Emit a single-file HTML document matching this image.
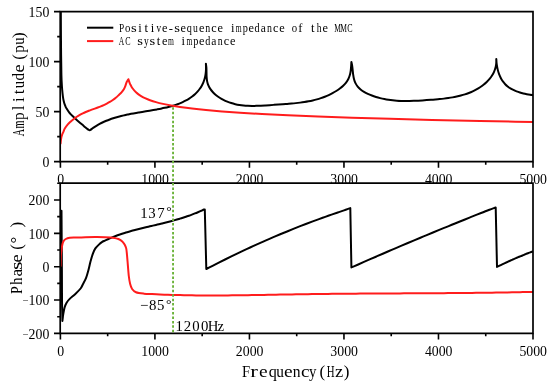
<!DOCTYPE html>
<html><head><meta charset="utf-8"><title>Impedance</title><style>
html,body{margin:0;padding:0;background:#fff;}
body{width:550px;height:385px;overflow:hidden;}
svg{display:block;}
.tk{font-family:"Liberation Serif","Noto Serif CJK SC",serif;font-size:13.8px;fill:#000;}
.mn{fill:#555;}
.lg{font-family:"Liberation Serif","Noto Serif CJK SC",serif;font-size:12.6px;fill:#000;}
.ti{font-family:"Liberation Serif","Noto Serif CJK SC",serif;font-size:17px;fill:#000;}
.dg{font-family:"Liberation Serif",serif;font-size:13.5px;fill:#000;}
.an{font-family:"Liberation Serif","Noto Serif CJK SC",serif;font-size:14.8px;fill:#000;}
</style></head><body>
<svg width="550" height="385" viewBox="0 0 550 385">
<rect x="0" y="0" width="550" height="385" fill="#fff"/>
<defs><clipPath id="ct"><rect x="60.20" y="11.60" width="472.80" height="150.05"/></clipPath><clipPath id="cb"><rect x="60.20" y="183.20" width="472.80" height="150.15"/></clipPath></defs>
<text class="tk" x="60.60" y="184.20" text-anchor="middle">0</text>
<text class="tk" x="155.12" y="184.20" text-anchor="middle">1000</text>
<text class="tk" x="249.64" y="184.20" text-anchor="middle">2000</text>
<text class="tk" x="344.16" y="184.20" text-anchor="middle">3000</text>
<text class="tk" x="438.68" y="184.20" text-anchor="middle">4000</text>
<text class="tk" x="533.20" y="184.20" text-anchor="middle">5000</text>
<g clip-path="url(#ct)" fill="none" stroke-linejoin="round" stroke-linecap="round">
<path d="M60.80,5.00 C60.83,13.33 60.85,21.67 60.90,30.00 C60.95,38.33 61.02,47.50 61.10,55.00 C61.18,62.50 61.27,69.83 61.40,75.00 C61.53,80.17 61.72,83.00 61.90,86.00 C62.08,89.00 62.27,90.82 62.50,93.00 C62.73,95.18 63.00,97.40 63.30,99.10 C63.60,100.80 63.95,102.02 64.30,103.20 C64.65,104.38 65.02,105.30 65.40,106.20 C65.78,107.10 65.95,107.52 66.60,108.60 C67.25,109.68 68.43,111.58 69.30,112.70 C70.17,113.82 70.95,114.45 71.80,115.30 C72.65,116.15 73.48,116.95 74.40,117.80 C75.32,118.65 76.33,119.55 77.30,120.40 C78.27,121.25 79.28,122.12 80.20,122.90 C81.12,123.68 81.95,124.37 82.80,125.10 C83.65,125.83 84.55,126.67 85.30,127.30 C86.05,127.93 86.73,128.48 87.30,128.90 C87.87,129.32 88.25,129.60 88.70,129.80 C89.15,130.00 89.26,130.43 90.00,130.10 C90.74,129.77 92.09,128.56 93.15,127.84 C94.21,127.12 95.28,126.44 96.36,125.79 C97.44,125.14 98.53,124.53 99.63,123.94 C100.73,123.36 101.84,122.80 102.95,122.28 C104.07,121.75 105.20,121.26 106.33,120.79 C107.46,120.31 108.60,119.87 109.75,119.45 C110.89,119.03 112.05,118.63 113.21,118.25 C114.37,117.87 115.54,117.52 116.72,117.18 C117.89,116.84 119.07,116.52 120.26,116.22 C121.45,115.92 122.64,115.63 123.84,115.35 C125.04,115.08 126.24,114.82 127.45,114.57 C128.66,114.32 129.87,114.08 131.09,113.85 C132.30,113.62 133.53,113.40 134.75,113.18 C135.98,112.96 137.20,112.75 138.44,112.55 C139.67,112.34 140.90,112.14 142.14,111.93 C143.38,111.73 144.62,111.53 145.86,111.32 C147.11,111.12 148.35,110.92 149.60,110.71 C150.84,110.50 152.09,110.29 153.34,110.07 C154.59,109.85 155.84,109.62 157.09,109.39 C158.34,109.15 159.60,108.91 160.85,108.65 C162.10,108.39 163.35,108.13 164.60,107.85 C165.85,107.56 167.10,107.27 168.34,106.95 C169.59,106.64 170.82,106.31 172.05,105.96 C173.27,105.60 174.49,105.23 175.69,104.83 C176.89,104.43 178.08,104.01 179.25,103.56 C180.42,103.10 181.58,102.62 182.70,102.11 C183.83,101.60 184.94,101.06 186.02,100.48 C187.10,99.90 188.16,99.29 189.19,98.64 C190.21,97.99 191.21,97.30 192.17,96.57 C193.13,95.83 194.06,95.06 194.95,94.24 C195.83,93.42 196.69,92.56 197.50,91.65 C198.30,90.74 199.07,89.78 199.79,88.78 C200.50,87.79 201.17,86.74 201.77,85.67 C202.37,84.59 202.92,83.47 203.39,82.33 C203.87,81.18 204.28,79.99 204.61,78.79 C204.95,77.58 205.22,76.34 205.43,75.09 C205.64,73.84 205.78,72.57 205.88,71.30 C205.98,70.03 206.01,68.75 206.02,67.48 C206.02,66.21 205.94,64.96 205.90,63.70 L205.90,63.70 C206.06,65.09 206.29,66.45 206.39,67.88 C206.49,69.32 206.47,70.81 206.51,72.29 C206.54,73.77 206.52,75.29 206.61,76.75 C206.71,78.22 206.81,79.70 207.08,81.11 C207.36,82.51 207.74,83.89 208.27,85.18 C208.80,86.48 209.49,87.72 210.27,88.90 C211.05,90.07 211.97,91.19 212.94,92.24 C213.92,93.29 215.01,94.27 216.13,95.19 C217.26,96.11 218.47,96.97 219.68,97.75 C220.90,98.54 222.16,99.26 223.43,99.91 C224.70,100.57 225.99,101.15 227.29,101.68 C228.59,102.21 229.91,102.67 231.24,103.08 C232.57,103.50 233.92,103.85 235.28,104.16 C236.63,104.47 238.01,104.73 239.39,104.95 C240.77,105.17 242.17,105.34 243.57,105.48 C244.98,105.62 246.39,105.72 247.81,105.79 C249.23,105.86 250.67,105.89 252.10,105.91 C253.54,105.92 254.99,105.90 256.43,105.87 C257.88,105.84 259.34,105.78 260.80,105.71 C262.26,105.64 263.72,105.56 265.18,105.47 C266.65,105.38 268.12,105.27 269.58,105.17 C271.05,105.07 272.52,104.96 273.99,104.85 C275.46,104.75 276.93,104.65 278.39,104.55 C279.86,104.45 281.32,104.35 282.78,104.24 C284.25,104.14 285.70,104.03 287.16,103.92 C288.61,103.81 290.07,103.69 291.51,103.56 C292.96,103.43 294.40,103.29 295.84,103.13 C297.27,102.98 298.71,102.81 300.13,102.63 C301.55,102.44 302.97,102.24 304.38,102.02 C305.79,101.80 307.19,101.56 308.59,101.29 C309.98,101.02 311.37,100.73 312.74,100.41 C314.12,100.09 315.48,99.75 316.84,99.37 C318.19,99.00 319.54,98.59 320.87,98.15 C322.20,97.71 323.52,97.23 324.83,96.72 C326.14,96.20 327.44,95.66 328.72,95.06 C330.00,94.47 331.27,93.84 332.52,93.16 C333.78,92.48 335.02,91.76 336.24,90.98 C337.46,90.21 338.68,89.40 339.84,88.52 C341.00,87.65 342.14,86.72 343.18,85.73 C344.22,84.74 345.21,83.70 346.07,82.58 C346.93,81.47 347.72,80.29 348.34,79.04 C348.97,77.79 349.45,76.45 349.84,75.08 C350.23,73.71 350.47,72.25 350.69,70.81 C350.90,69.36 351.01,67.86 351.12,66.39 C351.24,64.92 351.31,63.46 351.40,62.00 L351.40,62.00 C351.66,63.33 351.97,64.60 352.18,65.99 C352.40,67.38 352.52,68.87 352.69,70.34 C352.86,71.81 352.98,73.34 353.21,74.81 C353.43,76.28 353.66,77.76 354.04,79.15 C354.41,80.53 354.86,81.88 355.47,83.11 C356.08,84.33 356.83,85.47 357.69,86.52 C358.54,87.57 359.53,88.52 360.59,89.41 C361.65,90.29 362.82,91.09 364.03,91.83 C365.24,92.58 366.53,93.24 367.85,93.86 C369.16,94.48 370.53,95.03 371.90,95.54 C373.26,96.06 374.65,96.52 376.03,96.94 C377.42,97.37 378.80,97.75 380.18,98.10 C381.57,98.45 382.95,98.76 384.34,99.03 C385.73,99.31 387.12,99.55 388.51,99.76 C389.90,99.97 391.30,100.15 392.69,100.30 C394.09,100.45 395.49,100.57 396.89,100.67 C398.29,100.77 399.69,100.84 401.09,100.89 C402.50,100.94 403.90,100.97 405.31,100.98 C406.72,100.99 408.13,100.98 409.55,100.95 C410.96,100.93 412.38,100.89 413.80,100.84 C415.22,100.79 416.64,100.72 418.07,100.65 C419.49,100.57 420.92,100.49 422.35,100.40 C423.78,100.31 425.22,100.21 426.65,100.11 C428.09,100.01 429.53,99.91 430.97,99.81 C432.42,99.70 433.86,99.59 435.31,99.47 C436.75,99.35 438.20,99.23 439.64,99.08 C441.08,98.94 442.52,98.79 443.95,98.62 C445.39,98.45 446.82,98.27 448.24,98.06 C449.67,97.85 451.09,97.63 452.49,97.38 C453.90,97.13 455.30,96.85 456.69,96.55 C458.08,96.25 459.46,95.92 460.82,95.55 C462.19,95.19 463.54,94.80 464.88,94.37 C466.22,93.94 467.54,93.47 468.84,92.96 C470.15,92.46 471.44,91.91 472.71,91.32 C473.97,90.73 475.22,90.10 476.45,89.42 C477.68,88.74 478.89,88.01 480.07,87.23 C481.25,86.45 482.41,85.63 483.51,84.75 C484.62,83.87 485.70,82.94 486.71,81.96 C487.72,80.99 488.69,79.96 489.58,78.88 C490.47,77.81 491.30,76.68 492.04,75.50 C492.78,74.33 493.46,73.10 494.03,71.83 C494.59,70.55 495.08,69.22 495.45,67.85 C495.82,66.47 496.09,65.05 496.23,63.57 C496.37,62.10 496.28,60.52 496.30,59.00 L496.30,59.00 C496.38,60.16 496.42,61.33 496.53,62.49 C496.65,63.65 496.79,64.82 496.98,65.97 C497.17,67.12 497.40,68.26 497.67,69.39 C497.94,70.51 498.25,71.62 498.61,72.71 C498.97,73.79 499.37,74.86 499.82,75.89 C500.27,76.92 500.76,77.93 501.31,78.89 C501.86,79.85 502.45,80.79 503.10,81.67 C503.75,82.56 504.45,83.40 505.21,84.19 C505.97,84.98 506.79,85.72 507.65,86.42 C508.51,87.11 509.44,87.74 510.40,88.33 C511.35,88.93 512.36,89.47 513.39,89.97 C514.42,90.47 515.50,90.93 516.58,91.35 C517.67,91.77 518.79,92.15 519.91,92.49 C521.04,92.84 522.18,93.15 523.33,93.43 C524.47,93.71 525.62,93.95 526.77,94.18 C527.91,94.40 529.05,94.59 530.18,94.76 C531.30,94.93 532.39,95.05 533.50,95.20" stroke="#000" stroke-width="2"/>
<path d="M60.60,143.40 C60.77,141.83 60.83,140.18 61.10,138.70 C61.37,137.22 61.80,135.68 62.20,134.50 C62.60,133.32 63.07,132.58 63.50,131.60 C63.93,130.62 64.08,129.79 64.80,128.60 C65.52,127.41 66.80,125.63 67.80,124.44 C68.80,123.25 69.80,122.38 70.80,121.46 C71.80,120.54 72.80,119.70 73.80,118.92 C74.80,118.13 75.80,117.42 76.80,116.75 C77.80,116.08 78.80,115.47 79.80,114.90 C80.80,114.33 81.80,113.82 82.80,113.33 C83.80,112.84 84.80,112.39 85.80,111.96 C86.80,111.53 87.80,111.14 88.80,110.75 C89.80,110.36 90.80,110.00 91.80,109.64 C92.80,109.28 93.80,108.93 94.80,108.57 C95.80,108.22 96.80,107.87 97.80,107.50 C98.80,107.13 99.80,106.76 100.80,106.36 C101.80,105.96 102.80,105.54 103.80,105.09 C104.80,104.64 105.80,104.17 106.80,103.65 C107.80,103.13 108.80,102.58 109.80,101.98 C110.80,101.37 111.80,100.73 112.80,100.02 C113.80,99.30 114.80,98.55 115.80,97.71 C116.80,96.88 117.85,95.89 118.80,95.01 C119.75,94.12 120.63,93.40 121.50,92.40 C122.37,91.40 123.35,90.10 124.00,89.00 C124.65,87.90 124.95,86.97 125.40,85.80 C125.85,84.63 126.20,83.10 126.70,82.00 C127.20,80.90 127.83,80.13 128.40,79.20 L128.40,79.20 C128.60,79.85 128.78,80.50 129.00,81.14 C129.22,81.77 129.45,82.40 129.70,83.02 C129.95,83.63 130.20,84.20 130.50,84.81 C130.80,85.42 131.13,86.06 131.50,86.68 C131.87,87.30 132.25,87.90 132.70,88.53 C133.15,89.15 133.65,89.80 134.20,90.42 C134.75,91.05 135.28,91.62 136.00,92.27 C136.72,92.93 137.58,93.67 138.50,94.34 C139.42,95.01 140.42,95.67 141.50,96.31 C142.58,96.94 143.58,97.49 145.00,98.14 C146.42,98.78 148.17,99.53 150.00,100.20 C151.83,100.86 153.83,101.51 156.00,102.12 C158.17,102.74 160.50,103.33 163.00,103.89 C165.50,104.45 168.17,104.99 171.00,105.51 C173.83,106.02 176.50,106.47 180.00,106.98 C183.50,107.49 187.67,108.06 192.00,108.57 C196.33,109.08 201.00,109.58 206.00,110.06 C211.00,110.54 216.33,111.01 222.00,111.45 C227.67,111.90 233.33,112.31 240.00,112.74 C246.67,113.18 254.00,113.62 262.00,114.05 C270.00,114.48 278.67,114.91 288.00,115.33 C297.33,115.75 307.33,116.16 318.00,116.56 C328.67,116.97 340.00,117.36 352.00,117.74 C364.00,118.12 376.67,118.50 390.00,118.86 C403.33,119.23 417.00,119.58 432.00,119.93 C447.00,120.29 463.08,120.64 480.00,120.99 C496.92,121.34 515.67,121.68 533.50,122.03" stroke="#ff1c1c" stroke-width="2"/>
</g>
<rect x="60.20" y="183.20" width="472.80" height="150.15" fill="#fff"/>
<g clip-path="url(#cb)" fill="none" stroke-linejoin="round" stroke-linecap="round">
<path d="M61.50,210.80 C61.57,220.53 61.63,230.13 61.70,240.00 C61.77,249.87 61.85,260.00 61.90,270.00 C61.95,280.00 61.92,291.50 62.00,300.00 C62.08,308.50 62.27,314.00 62.40,321.00 L62.40,321.00 C62.50,320.17 62.57,319.58 62.70,318.50 C62.83,317.42 62.88,316.33 63.20,314.50 C63.52,312.67 64.03,309.45 64.60,307.50 C65.17,305.55 65.75,304.23 66.60,302.80 C67.45,301.37 68.28,300.33 69.70,298.90 C71.12,297.47 73.28,295.93 75.10,294.20 C76.92,292.47 79.30,290.17 80.60,288.50 C81.90,286.83 81.98,285.98 82.90,284.20 C83.82,282.42 85.18,280.12 86.10,277.80 C87.02,275.48 87.67,273.02 88.40,270.30 C89.13,267.58 89.75,264.28 90.50,261.50 C91.25,258.72 92.12,255.75 92.90,253.60 C93.68,251.45 94.20,250.10 95.20,248.60 C96.20,247.10 97.78,245.69 98.90,244.60 C100.02,243.51 100.90,242.75 101.90,242.09 C102.90,241.42 103.90,241.08 104.90,240.60 C105.90,240.12 106.90,239.65 107.90,239.21 C108.90,238.76 109.90,238.33 110.90,237.91 C111.90,237.49 112.90,237.09 113.90,236.69 C114.90,236.30 115.90,235.93 116.90,235.56 C117.90,235.19 118.90,234.84 119.90,234.50 C120.90,234.15 121.90,233.82 122.90,233.50 C123.90,233.18 124.90,232.86 125.90,232.56 C126.90,232.25 127.90,231.96 128.90,231.67 C129.90,231.38 130.90,231.10 131.90,230.83 C132.90,230.55 133.90,230.29 134.90,230.02 C135.90,229.76 136.90,229.50 137.90,229.25 C138.90,229.00 139.90,228.75 140.90,228.50 C141.90,228.25 142.90,228.01 143.90,227.77 C144.90,227.53 145.90,227.29 146.90,227.05 C147.90,226.81 148.90,226.58 149.90,226.34 C150.90,226.11 151.90,225.87 152.90,225.64 C153.90,225.40 154.90,225.16 155.90,224.93 C156.90,224.69 157.90,224.45 158.90,224.21 C159.90,223.97 160.90,223.73 161.90,223.49 C162.90,223.24 163.90,223.00 164.90,222.74 C165.90,222.49 166.90,222.24 167.90,221.98 C168.90,221.72 169.90,221.46 170.90,221.20 C171.90,220.93 172.90,220.66 173.90,220.38 C174.90,220.10 175.90,219.82 176.90,219.53 C177.90,219.24 178.90,218.94 179.90,218.64 C180.90,218.34 181.90,218.03 182.90,217.71 C183.90,217.39 184.90,217.06 185.90,216.72 C186.90,216.39 187.90,216.04 188.90,215.69 C189.90,215.34 190.90,214.97 191.90,214.60 C192.90,214.22 193.90,213.84 194.90,213.44 C195.90,213.05 196.90,212.64 197.90,212.22 C198.90,211.80 199.90,211.37 200.90,210.93 C201.90,210.49 203.25,209.80 203.90,209.56 C204.55,209.32 204.50,209.52 204.80,209.50 L204.80,209.50 C205.30,229.33 205.80,249.17 206.30,269.00 L206.30,269.00 C208.39,267.94 210.47,266.87 212.56,265.81 C214.65,264.75 216.73,263.68 218.82,262.63 C220.91,261.57 223.00,260.53 225.08,259.50 C227.17,258.46 229.26,257.44 231.34,256.42 C233.43,255.41 235.52,254.40 237.60,253.40 C239.69,252.40 241.78,251.41 243.87,250.44 C245.95,249.46 248.04,248.48 250.13,247.52 C252.21,246.56 254.30,245.61 256.39,244.67 C258.47,243.72 260.56,242.79 262.65,241.86 C264.73,240.94 266.82,240.02 268.91,239.12 C271.00,238.21 273.08,237.31 275.17,236.42 C277.26,235.53 279.34,234.65 281.43,233.78 C283.52,232.91 285.60,232.05 287.69,231.20 C289.78,230.34 291.87,229.50 293.95,228.67 C296.04,227.83 298.13,227.01 300.21,226.19 C302.30,225.37 304.39,224.57 306.47,223.77 C308.56,222.97 310.65,222.18 312.73,221.40 C314.82,220.62 316.91,219.85 319.00,219.09 C321.08,218.33 323.17,217.57 325.26,216.83 C327.34,216.09 329.43,215.35 331.52,214.63 C333.60,213.90 335.69,213.19 337.78,212.48 C339.87,211.77 341.95,211.11 344.04,210.38 C346.13,209.65 348.21,208.86 350.30,208.10 L350.30,208.10 C350.67,227.87 351.03,247.63 351.40,267.40 L351.40,267.40 C353.49,266.50 355.58,265.62 357.67,264.71 C359.77,263.80 361.86,262.87 363.95,261.95 C366.04,261.03 368.13,260.11 370.22,259.19 C372.31,258.28 374.40,257.37 376.50,256.46 C378.59,255.55 380.68,254.64 382.77,253.74 C384.86,252.83 386.95,251.93 389.04,251.03 C391.13,250.13 393.23,249.23 395.32,248.34 C397.41,247.44 399.50,246.55 401.59,245.66 C403.68,244.77 405.77,243.88 407.87,243.00 C409.96,242.11 412.05,241.23 414.14,240.35 C416.23,239.47 418.32,238.59 420.41,237.71 C422.50,236.84 424.60,235.97 426.69,235.10 C428.78,234.23 430.87,233.36 432.96,232.49 C435.05,231.63 437.14,230.77 439.23,229.90 C441.33,229.04 443.42,228.19 445.51,227.33 C447.60,226.48 449.69,225.62 451.78,224.77 C453.87,223.92 455.97,223.07 458.06,222.23 C460.15,221.38 462.24,220.54 464.33,219.70 C466.42,218.86 468.51,218.02 470.60,217.18 C472.70,216.35 474.79,215.52 476.88,214.69 C478.97,213.85 481.06,213.03 483.15,212.20 C485.24,211.37 487.33,210.51 489.43,209.73 C491.52,208.95 493.61,208.24 495.70,207.50 L495.70,207.50 C496.13,227.30 496.57,247.10 497.00,266.90 L497.00,266.90 C497.53,266.66 498.06,266.42 498.59,266.17 C499.12,265.92 499.64,265.65 500.17,265.39 C500.70,265.14 501.23,264.88 501.76,264.62 C502.29,264.37 502.82,264.12 503.35,263.86 C503.88,263.61 504.41,263.36 504.93,263.11 C505.46,262.86 505.99,262.62 506.52,262.37 C507.05,262.13 507.58,261.88 508.11,261.64 C508.64,261.40 509.17,261.15 509.70,260.91 C510.22,260.67 510.75,260.44 511.28,260.20 C511.81,259.96 512.34,259.73 512.87,259.49 C513.40,259.26 513.93,259.03 514.46,258.80 C514.99,258.57 515.51,258.34 516.04,258.11 C516.57,257.88 517.10,257.66 517.63,257.43 C518.16,257.21 518.69,256.99 519.22,256.76 C519.75,256.54 520.28,256.32 520.80,256.10 C521.33,255.89 521.86,255.67 522.39,255.45 C522.92,255.24 523.45,255.03 523.98,254.81 C524.51,254.60 525.04,254.39 525.57,254.18 C526.09,253.97 526.62,253.76 527.15,253.56 C527.68,253.35 528.21,253.15 528.74,252.94 C529.27,252.74 529.80,252.54 530.33,252.34 C530.86,252.14 531.38,251.94 531.91,251.74 C532.44,251.55 532.97,251.38 533.50,251.20" stroke="#000" stroke-width="2"/>
<path d="M60.60,266.00 C60.67,263.33 60.73,260.00 60.80,258.00 C60.87,256.00 60.88,255.28 61.00,254.00 C61.12,252.72 61.28,251.83 61.50,250.30 C61.72,248.77 61.97,246.30 62.30,244.80 C62.63,243.30 62.92,242.27 63.50,241.30 C64.08,240.33 64.77,239.58 65.80,239.00 C66.83,238.42 68.17,238.05 69.70,237.80 C71.23,237.55 73.05,237.57 75.00,237.50 C76.95,237.43 78.07,237.47 81.40,237.40 C84.73,237.33 91.07,237.13 95.00,237.10 C98.93,237.07 102.40,237.13 105.00,237.20 C107.60,237.27 109.02,237.37 110.60,237.50 C112.18,237.63 113.20,237.75 114.50,238.00 C115.80,238.25 117.10,238.43 118.40,239.00 C119.70,239.57 121.27,240.48 122.30,241.40 C123.33,242.32 123.95,243.33 124.60,244.50 C125.25,245.67 125.80,246.65 126.20,248.40 C126.60,250.15 126.77,252.73 127.00,255.00 C127.23,257.27 127.30,258.50 127.60,262.00 C127.90,265.50 128.38,272.37 128.80,276.00 C129.22,279.63 129.55,281.63 130.10,283.80 C130.65,285.97 131.12,287.60 132.10,289.00 C133.08,290.40 134.02,291.43 136.00,292.20 C137.98,292.97 141.33,293.33 144.00,293.65 C146.67,293.97 149.33,293.96 152.00,294.10 C154.67,294.24 157.33,294.36 160.00,294.47 C162.67,294.59 165.33,294.69 168.00,294.78 C170.67,294.87 173.33,294.95 176.00,295.02 C178.67,295.09 181.33,295.15 184.00,295.21 C186.67,295.26 189.33,295.30 192.00,295.34 C194.67,295.37 197.33,295.40 200.00,295.42 C202.67,295.44 205.33,295.45 208.00,295.46 C210.67,295.47 213.33,295.47 216.00,295.46 C218.67,295.46 221.33,295.44 224.00,295.43 C226.67,295.41 229.33,295.39 232.00,295.36 C234.67,295.34 237.33,295.31 240.00,295.27 C242.67,295.24 245.33,295.20 248.00,295.16 C250.67,295.12 253.33,295.08 256.00,295.03 C258.67,294.99 261.33,294.94 264.00,294.90 C266.67,294.85 269.33,294.80 272.00,294.75 C274.67,294.70 277.33,294.65 280.00,294.60 C282.67,294.55 285.33,294.50 288.00,294.46 C290.67,294.41 293.33,294.36 296.00,294.32 C298.67,294.27 301.33,294.23 304.00,294.19 C306.67,294.15 309.33,294.11 312.00,294.08 C314.67,294.04 317.33,294.01 320.00,293.98 C322.67,293.94 325.33,293.91 328.00,293.88 C330.67,293.86 333.33,293.83 336.00,293.80 C338.67,293.78 341.33,293.75 344.00,293.73 C346.67,293.71 349.33,293.69 352.00,293.67 C354.67,293.65 357.33,293.63 360.00,293.61 C362.67,293.59 365.33,293.57 368.00,293.56 C370.67,293.54 373.33,293.52 376.00,293.51 C378.67,293.49 381.33,293.48 384.00,293.47 C386.67,293.45 389.33,293.44 392.00,293.42 C394.67,293.41 397.33,293.40 400.00,293.38 C402.67,293.37 405.33,293.36 408.00,293.34 C410.67,293.33 413.33,293.31 416.00,293.30 C418.67,293.29 421.33,293.27 424.00,293.26 C426.67,293.24 429.33,293.23 432.00,293.21 C434.67,293.19 437.33,293.18 440.00,293.16 C442.67,293.14 445.33,293.12 448.00,293.10 C450.67,293.08 453.33,293.06 456.00,293.04 C458.67,293.02 461.33,292.99 464.00,292.97 C466.67,292.94 469.33,292.92 472.00,292.89 C474.67,292.86 477.33,292.83 480.00,292.80 C482.67,292.77 485.33,292.73 488.00,292.70 C490.67,292.66 493.33,292.63 496.00,292.59 C498.67,292.55 501.33,292.51 504.00,292.46 C506.67,292.42 509.33,292.37 512.00,292.32 C514.67,292.27 517.33,292.22 520.00,292.17 C522.67,292.12 525.75,292.03 528.00,292.00 C530.25,291.97 531.67,292.00 533.50,292.00" stroke="#ff1c1c" stroke-width="2"/>
</g>
<path d="M60.20,11.60 H533.00 V161.65 H60.20 Z M60.20,183.20 H533.00 V333.35 H60.20 Z" fill="none" stroke="#000" stroke-width="1.70" stroke-linejoin="miter"/>
<path d="M54.00,161.65 H60.20 M57.20,136.65 H60.20 M54.00,111.65 H60.20 M57.20,86.65 H60.20 M54.00,61.65 H60.20 M57.20,36.65 H60.20 M54.00,11.65 H60.20 M60.40,161.65 V167.85 M107.66,161.65 V164.65 M154.92,161.65 V167.85 M202.18,161.65 V164.65 M249.44,161.65 V167.85 M296.70,161.65 V164.65 M343.96,161.65 V167.85 M391.22,161.65 V164.65 M438.48,161.65 V167.85 M485.74,161.65 V164.65 M533.00,161.65 V167.85 M54.00,333.40 H60.20 M57.20,316.73 H60.20 M54.00,300.05 H60.20 M57.20,283.38 H60.20 M54.00,266.70 H60.20 M57.20,250.02 H60.20 M54.00,233.35 H60.20 M57.20,216.67 H60.20 M54.00,200.00 H60.20 M57.20,183.32 H60.20 M60.40,333.35 V339.55 M107.66,333.35 V336.35 M154.92,333.35 V339.55 M202.18,333.35 V336.35 M249.44,333.35 V339.55 M296.70,333.35 V336.35 M343.96,333.35 V339.55 M391.22,333.35 V336.35 M438.48,333.35 V339.55 M485.74,333.35 V336.35 M533.00,333.35 V339.55" fill="none" stroke="#000" stroke-width="1.6" stroke-linecap="butt"/>
<path d="M173.05,107.3 V333.2" stroke="#6cb33a" stroke-width="1.9" stroke-dasharray="2.5 1.95" fill="none"/>
<text class="tk" x="49.30" y="16.85" text-anchor="end">150</text>
<text class="tk" x="49.30" y="66.85" text-anchor="end">100</text>
<text class="tk" x="49.30" y="116.85" text-anchor="end">50</text>
<text class="tk" x="49.30" y="166.85" text-anchor="end">0</text>
<text class="tk" x="49.30" y="205.20" text-anchor="end">200</text>
<text class="tk" x="49.30" y="238.55" text-anchor="end">100</text>
<text class="tk" x="49.30" y="271.90" text-anchor="end">0</text>
<text class="tk" x="49.30" y="305.25" text-anchor="end">100</text>
<text class="tk mn" x="32.63" y="305.25" text-anchor="middle" transform="scale(0.78,1)">−</text>
<text class="tk" x="49.30" y="338.60" text-anchor="end">200</text>
<text class="tk mn" x="32.63" y="338.60" text-anchor="middle" transform="scale(0.78,1)">−</text>
<text class="tk" x="60.60" y="355.60" text-anchor="middle">0</text>
<text class="tk" x="155.12" y="355.60" text-anchor="middle">1000</text>
<text class="tk" x="249.64" y="355.60" text-anchor="middle">2000</text>
<text class="tk" x="344.16" y="355.60" text-anchor="middle">3000</text>
<text class="tk" x="438.68" y="355.60" text-anchor="middle">4000</text>
<text class="tk" x="533.20" y="355.60" text-anchor="middle">5000</text>
<path d="M87,27.7 H113.3" stroke="#000" stroke-width="2"/>
<path d="M87,41.1 H113.3" stroke="#ff1c1c" stroke-width="2"/>
<text class="lg" x="140.10 146.26 152.44 170.95 232.65 300.34 312.85" y="32.20" text-anchor="middle">iti-ift</text><text class="lg" x="163.60" y="32.20" text-anchor="middle" transform="scale(0.744,1)">P</text><text class="lg" x="149.44" y="32.20" text-anchor="middle" transform="scale(0.855,1)">o</text><text class="lg" x="115.30" y="32.20" text-anchor="middle" transform="scale(1.161,1)">s</text><text class="lg" x="218.87" y="32.20" text-anchor="middle" transform="scale(0.725,1)">v</text><text class="lg" x="168.29" y="32.20" text-anchor="middle" transform="scale(0.979,1)">e</text><text class="lg" x="152.49" y="32.20" text-anchor="middle" transform="scale(1.161,1)">s</text><text class="lg" x="187.19" y="32.20" text-anchor="middle" transform="scale(0.979,1)">e</text><text class="lg" x="232.98" y="32.20" text-anchor="middle" transform="scale(0.813,1)">q</text><text class="lg" x="253.63" y="32.20" text-anchor="middle" transform="scale(0.771,1)">u</text><text class="lg" x="206.10" y="32.20" text-anchor="middle" transform="scale(0.979,1)">e</text><text class="lg" x="265.07" y="32.20" text-anchor="middle" transform="scale(0.784,1)">n</text><text class="lg" x="221.57" y="32.20" text-anchor="middle" transform="scale(0.966,1)">c</text><text class="lg" x="225.01" y="32.20" text-anchor="middle" transform="scale(0.979,1)">e</text><text class="lg" x="398.02" y="32.20" text-anchor="middle" transform="scale(0.600,1)">m</text><text class="lg" x="300.90" y="32.20" text-anchor="middle" transform="scale(0.815,1)">p</text><text class="lg" x="256.52" y="32.20" text-anchor="middle" transform="scale(0.979,1)">e</text><text class="lg" x="320.60" y="32.20" text-anchor="middle" transform="scale(0.802,1)">d</text><text class="lg" x="287.12" y="32.20" text-anchor="middle" transform="scale(0.917,1)">a</text><text class="lg" x="343.72" y="32.20" text-anchor="middle" transform="scale(0.784,1)">n</text><text class="lg" x="285.42" y="32.20" text-anchor="middle" transform="scale(0.966,1)">c</text><text class="lg" x="288.03" y="32.20" text-anchor="middle" transform="scale(0.979,1)">e</text><text class="lg" x="344.29" y="32.20" text-anchor="middle" transform="scale(0.855,1)">o</text><text class="lg" x="420.04" y="32.20" text-anchor="middle" transform="scale(0.760,1)">h</text><text class="lg" x="332.14" y="32.20" text-anchor="middle" transform="scale(0.979,1)">e</text><text class="lg" x="562.59" y="32.20" text-anchor="middle" transform="scale(0.600,1)">M</text><text class="lg" x="572.87" y="32.20" text-anchor="middle" transform="scale(0.600,1)">M</text><text class="lg" x="551.24" y="32.20" text-anchor="middle" transform="scale(0.635,1)">C</text>
<text class="lg" x="158.60 183.29" y="45.00" text-anchor="middle">ti</text><text class="lg" x="202.65" y="45.00" text-anchor="middle" transform="scale(0.600,1)">A</text><text class="lg" x="201.35" y="45.00" text-anchor="middle" transform="scale(0.635,1)">C</text><text class="lg" x="120.61" y="45.00" text-anchor="middle" transform="scale(1.161,1)">s</text><text class="lg" x="195.28" y="45.00" text-anchor="middle" transform="scale(0.749,1)">y</text><text class="lg" x="131.24" y="45.00" text-anchor="middle" transform="scale(1.161,1)">s</text><text class="lg" x="168.29" y="45.00" text-anchor="middle" transform="scale(0.979,1)">e</text><text class="lg" x="284.90" y="45.00" text-anchor="middle" transform="scale(0.600,1)">m</text><text class="lg" x="315.75" y="45.00" text-anchor="middle" transform="scale(0.600,1)">m</text><text class="lg" x="240.30" y="45.00" text-anchor="middle" transform="scale(0.815,1)">p</text><text class="lg" x="206.10" y="45.00" text-anchor="middle" transform="scale(0.979,1)">e</text><text class="lg" x="259.08" y="45.00" text-anchor="middle" transform="scale(0.802,1)">d</text><text class="lg" x="233.31" y="45.00" text-anchor="middle" transform="scale(0.917,1)">a</text><text class="lg" x="280.80" y="45.00" text-anchor="middle" transform="scale(0.784,1)">n</text><text class="lg" x="234.34" y="45.00" text-anchor="middle" transform="scale(0.966,1)">c</text><text class="lg" x="237.61" y="45.00" text-anchor="middle" transform="scale(0.979,1)">e</text>
<g transform="rotate(-90)"><text class="ti" x="-107.80 -99.72 -91.93 -57.00 -35.20" y="24.00" text-anchor="middle">lit()</text><text class="ti" x="-221.02" y="24.00" text-anchor="middle" transform="scale(0.600,1)">A</text><text class="ti" x="-207.55" y="24.00" text-anchor="middle" transform="scale(0.600,1)">m</text><text class="ti" x="-129.17" y="24.00" text-anchor="middle" transform="scale(0.900,1)">p</text><text class="ti" x="-99.26" y="24.00" text-anchor="middle" transform="scale(0.852,1)">u</text><text class="ti" x="-86.65" y="24.00" text-anchor="middle" transform="scale(0.886,1)">d</text><text class="ti" x="-63.38" y="24.00" text-anchor="middle" transform="scale(1.081,1)">e</text><text class="ti" x="-54.49" y="24.00" text-anchor="middle" transform="scale(0.900,1)">p</text><text class="ti" x="-48.20" y="24.00" text-anchor="middle" transform="scale(0.852,1)">u</text></g>
<g transform="rotate(-90)"><text class="ti" x="-246.90 -240.09 -224.70" y="22.00" text-anchor="middle">(°)</text><text class="ti" x="-353.24" y="22.00" text-anchor="middle" transform="scale(0.821,1)">P</text><text class="ti" x="-335.26" y="22.00" text-anchor="middle" transform="scale(0.839,1)">h</text><text class="ti" x="-269.23" y="22.00" text-anchor="middle" transform="scale(1.013,1)">a</text><text class="ti" x="-207.10" y="22.00" text-anchor="middle" transform="scale(1.283,1)">s</text><text class="ti" x="-238.99" y="22.00" text-anchor="middle" transform="scale(1.081,1)">e</text></g>
<text class="ti" x="322.40 346.50" y="377.30" text-anchor="middle">()</text><text class="ti" x="285.79" y="377.30" text-anchor="middle" transform="scale(0.861,1)">F</text><text class="ti" x="188.27" y="377.30" text-anchor="middle" transform="scale(1.350,1)">r</text><text class="ti" x="230.30" y="377.30" text-anchor="middle" transform="scale(1.143,1)">e</text><text class="ti" x="287.51" y="377.30" text-anchor="middle" transform="scale(0.949,1)">q</text><text class="ti" x="311.25" y="377.30" text-anchor="middle" transform="scale(0.900,1)">u</text><text class="ti" x="252.18" y="377.30" text-anchor="middle" transform="scale(1.143,1)">e</text><text class="ti" x="323.99" y="377.30" text-anchor="middle" transform="scale(0.916,1)">n</text><text class="ti" x="270.65" y="377.30" text-anchor="middle" transform="scale(1.128,1)">c</text><text class="ti" x="357.94" y="377.30" text-anchor="middle" transform="scale(0.874,1)">y</text><text class="ti" x="519.11" y="377.30" text-anchor="middle" transform="scale(0.637,1)">H</text><text class="ti" x="312.04" y="377.30" text-anchor="middle" transform="scale(1.087,1)">z</text>
<text class="an" x="143.90 152.00 160.90" y="217.70" text-anchor="middle">137</text>
<text class="dg" x="168.85" y="215.3" text-anchor="middle">°</text>
<text class="an" x="144.20 152.60 160.80" y="310.10" text-anchor="middle">−85</text>
<text class="dg" x="168.8" y="307.8" text-anchor="middle">°</text>
<text class="an" x="179.30 187.50 196.00 204.60 213.10 220.90" y="330.50" text-anchor="middle">1200Hz</text>
</svg>
</body></html>
